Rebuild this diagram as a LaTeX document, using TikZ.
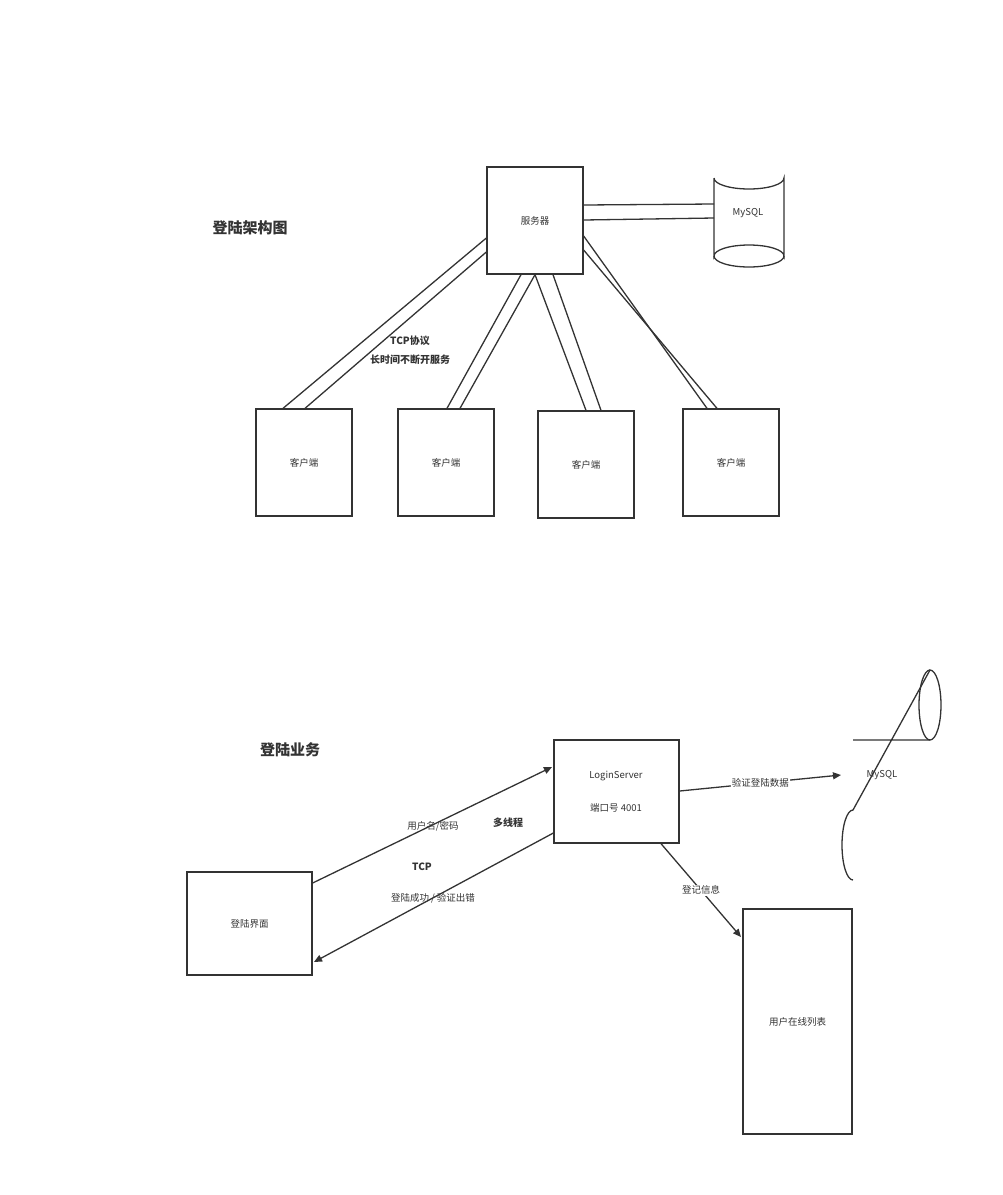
\documentclass[tikz,border=0pt]{standalone}
\usepackage{fontspec}
\setmainfont{Noto Sans CJK SC}
\usetikzlibrary{arrows.meta}
\definecolor{ln}{HTML}{333333}
\begin{document}
\begin{tikzpicture}[x=1pt,y=-1pt,
  box/.style={draw=ln,line width=1.3pt,fill=white},
  con/.style={draw=ln,line width=1.3pt},
  arr/.style={con,-{Triangle[length=8pt,width=7pt]}},
  lbl/.style={font=\fontsize{9.5}{11}\selectfont,text=ln},
  bl/.style={font=\bfseries\fontsize{10}{12}\selectfont,text=ln},
  ttl/.style={font=\bfseries\fontsize{15}{18}\selectfont,text=ln}]
\useasboundingbox (0,0) rectangle (1003,1195);
% top
\node[ttl] (t1) at (250,228) {登陆架构图};
\node[box,minimum width=96pt,minimum height=107pt,lbl] (srv) at (535,220.5) {服务器};
\draw[con,fill=white] (714,178) -- (714,256) arc[start angle=180,end angle=360,x radius=35,y radius=11] -- (784,178) arc[start angle=0,end angle=180,x radius=35,y radius=11];
\draw[con] (714,256) arc[start angle=180,end angle=0,x radius=35,y radius=11];
\node[lbl] (db1) at (748,213) {MySQL};
\coordinate (dbL) at (714,211);
\node[box,minimum width=96pt,minimum height=107pt,lbl] (c1) at (304,462.5) {客户端};
\node[box,minimum width=96pt,minimum height=107pt,lbl] (c2) at (446,462.5) {客户端};
\node[box,minimum width=96pt,minimum height=107pt,lbl] (c3) at (586,464.5) {客户端};
\node[box,minimum width=96pt,minimum height=107pt,lbl] (c4) at (731,462.5) {客户端};
\draw[con] (srv.east |- 0,205) -- (714,204);
\draw[con] (srv.east |- 0,220) -- (714,218);
\draw[con] (srv.west |- 0,238) -- (c1.north -| 283,0);
\draw[con] (srv.west |- 0,252) -- (c1.north -| 305,0);
\draw[con] (srv.south -| 521,0) -- (c2.north -| 447,0);
\draw[con] (srv.south) -- (c2.north -| 460,0);
\draw[con] (srv.south) -- (c3.north);
\draw[con] (srv.south -| 553,0) -- (c3.north -| 601,0);
\draw[con] (srv.east |- 0,236) -- (c4.north -| 707,0);
\draw[con] (srv.east |- 0,250) -- (c4.north -| 717,0);
\node[bl] (tcp1) at (410,341) {TCP协议};
\node[bl] (tcp2) at (410,360) {长时间不断开服务};
% bottom
\node[ttl] (t2) at (290,750) {登陆业务};
\node[box,minimum width=125pt,minimum height=103pt] (ls) at (616.5,791.5) {};
\node[lbl] (ls1) at (616,776) {LoginServer};
\node[lbl] (ls2) at (616,808) {端口号 4001};
\draw[con,fill=white] (853,740) -- (930,740) arc[start angle=90,end angle=-90,x radius=11,y radius=35] -- (853,810) arc[start angle=270,end angle=90,x radius=11,y radius=35];
\draw[con] (930,740) arc[start angle=90,end angle=270,x radius=11,y radius=35];
\node[lbl] (db2) at (882,775) {MySQL};
\coordinate (db2L) at (841,775);
\node[box,minimum width=125pt,minimum height=103pt,lbl] (ui) at (249.5,923.5) {登陆界面};
\node[box,minimum width=109pt,minimum height=225pt,lbl] (ol) at (797.5,1021.5) {用户在线列表};
\draw[arr] (ui.east |- 0,883) -- (552,767);
\draw[arr] (ls.west |- 0,833) -- (314,962);
\draw[arr] (ls.east |- 0,791) -- node[lbl,fill=white,inner sep=1pt,pos=0.5,yshift=0pt]{验证登陆数据} (db2L);
\draw[arr] (ls.south -| 661,0) -- node[lbl,fill=white,inner sep=1pt]{登记信息} (741,937);
\node[lbl] (u1) at (433,826) {用户名/密码};
\node[bl] (mt) at (508,823) {多线程};
\node[bl] (tcp3) at (422,867) {TCP};
\node[lbl] (r1) at (433,898) {登陆成功 / 验证出错};
\end{tikzpicture}
\end{document}
